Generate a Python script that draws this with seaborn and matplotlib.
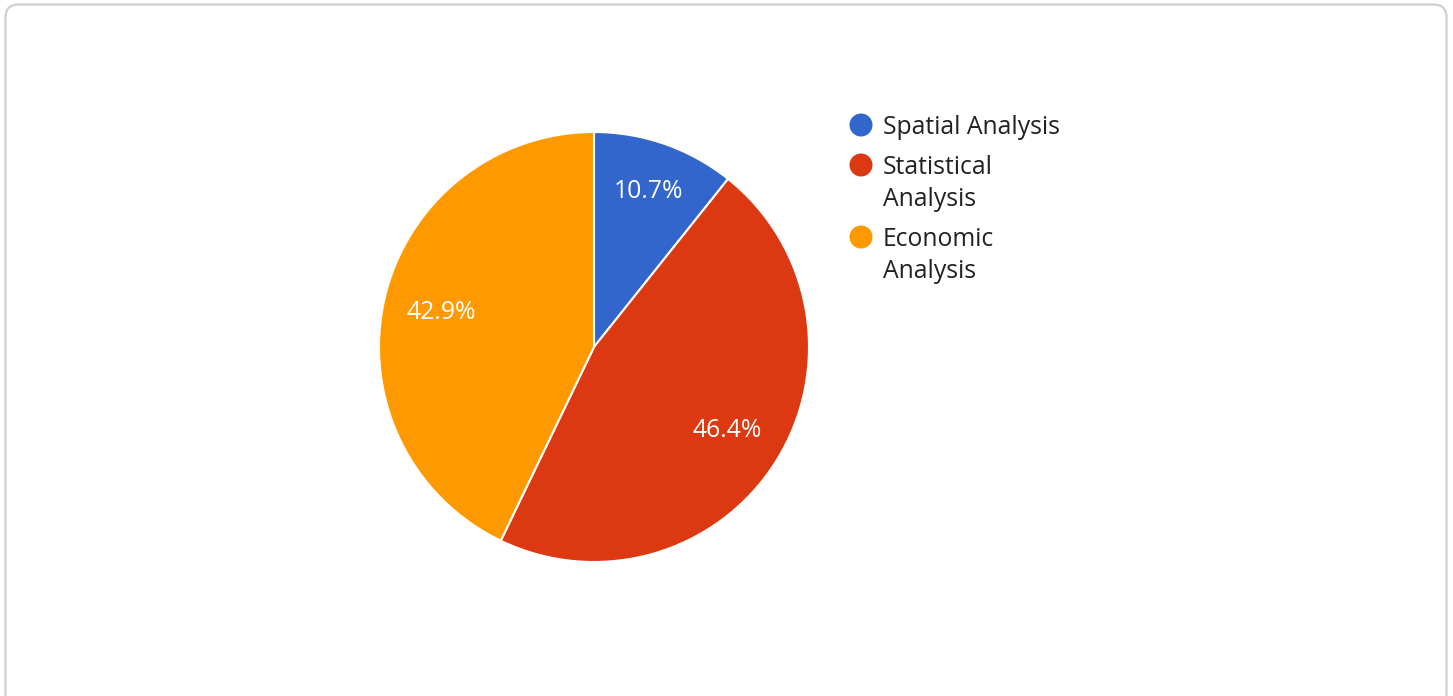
import textwrap
import matplotlib
matplotlib.use("Agg")
import matplotlib.pyplot as plt
import seaborn as sns
from matplotlib.patches import FancyBboxPatch, Circle

# data
categories = ["Spatial Analysis", "Statistical Analysis", "Economic Analysis"]
counts = [3, 13, 12]
colors = ["#3366CC", "#DC3912", "#FF9900"]

sns.set_theme(style="white")
plt.rcParams['font.family'] = ['Open Sans', 'DejaVu Sans']

W, H = 1453, 696
FS = 17.8
fig = plt.figure(figsize=(W / 100, H / 100), dpi=100)
fig.patch.set_facecolor("white")

# background axes in pixel units (y from bottom) for frame and legend
bg = fig.add_axes([0, 0, 1, 1])
bg.set_xlim(0, W)
bg.set_ylim(0, H)
bg.axis("off")
# card frame, its bottom edge runs off the image
frame = FancyBboxPatch((5.5, -10), 1441, H + 10 - 4.5,
                       boxstyle="round,pad=0,rounding_size=13",
                       facecolor="white", edgecolor="#cfcfcf", linewidth=1.6)
bg.add_patch(frame)

# pie axes: centre (594, 347), radius 215 px
cx, cy, r = 594, 347, 215
ax = fig.add_axes([(cx - r) / W, (H - cy - r) / H, 2 * r / W, 2 * r / H])
wedges, texts, autotexts = ax.pie(
    counts, colors=colors, startangle=90, counterclock=False,
    autopct="%1.1f%%", pctdistance=0.73, radius=1,
    wedgeprops=dict(edgecolor="white", linewidth=1.5),
    textprops=dict(color="white", fontsize=FS))
# small slice label sits a little further out
px, py = autotexts[0].get_position()
autotexts[0].set_position((px * 1.05, py * 1.05))
ax.set_xlim(-1, 1)
ax.set_ylim(-1, 1)
ax.axis("off")

# legend
y = H - 125
for cat, col in zip(categories, colors):
    lines = textwrap.wrap(cat, 16)
    bg.add_patch(Circle((861, y), 11.5, color=col, lw=0))
    for line in lines:
        bg.text(883, y, line, fontsize=FS, color="#222222",
                va="center_baseline", ha="left")
        y -= 32
    y -= 8

fig.savefig("out.png", dpi=100, facecolor="white")
